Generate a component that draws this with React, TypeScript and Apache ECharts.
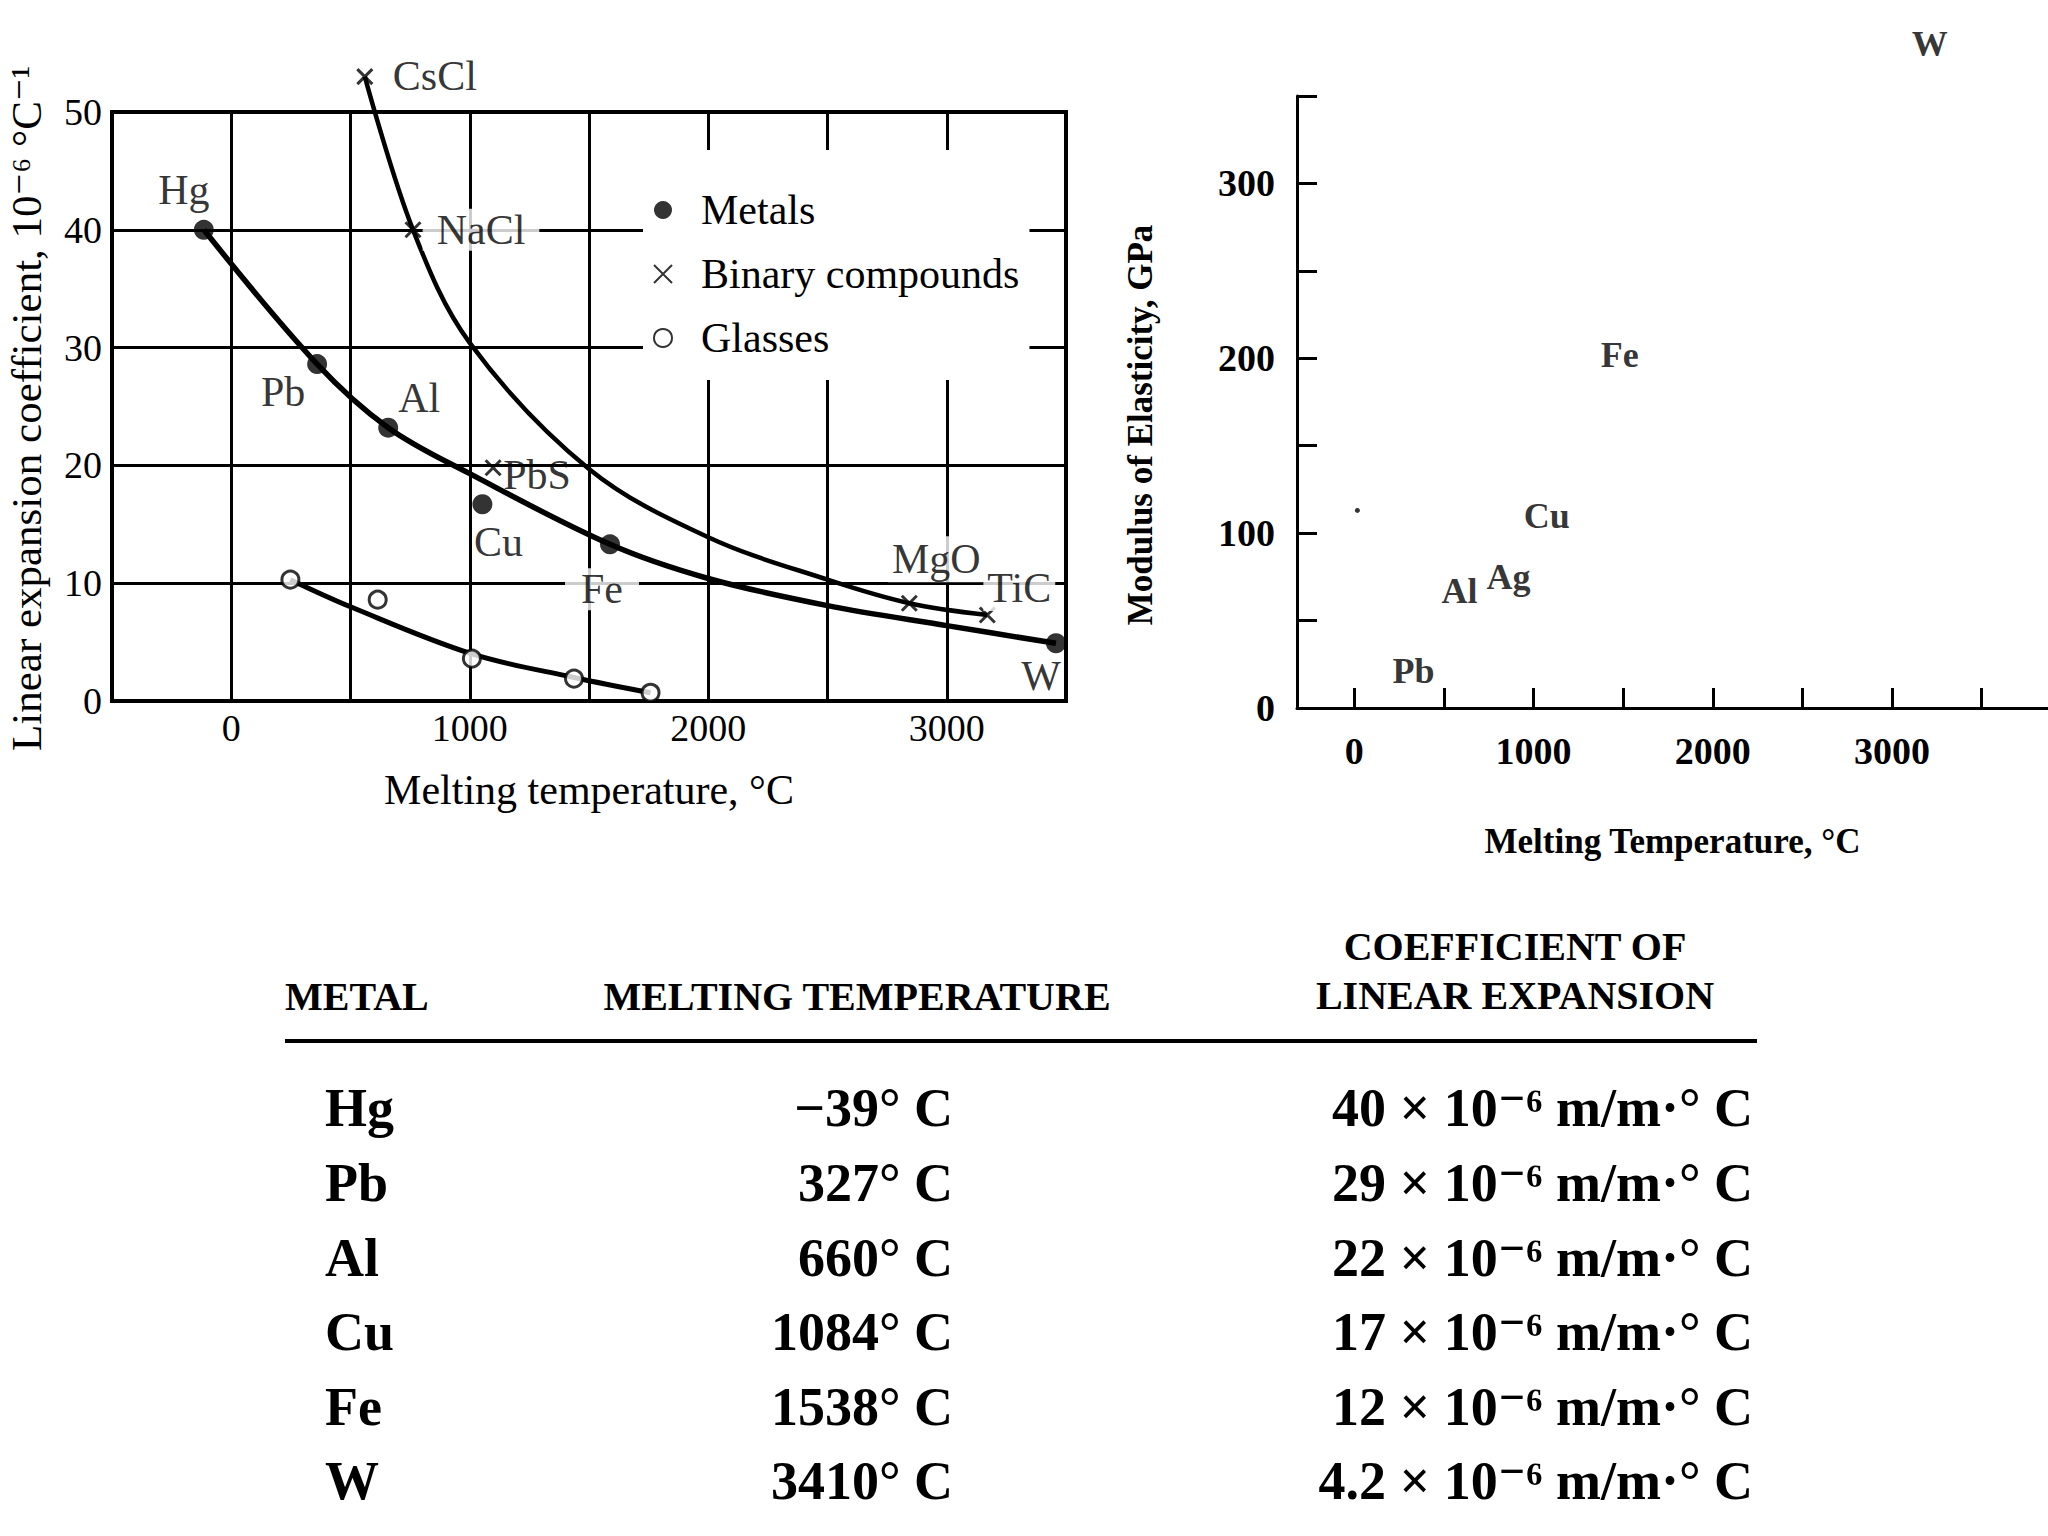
import React, { useEffect, useRef } from 'react';
import * as echarts from 'echarts';

// ---------- Left chart: linear expansion coefficient vs melting temperature ----------
const metalNames = ['Hg', 'Pb', 'Al', 'Cu', 'Fe', 'W'];
const metalTemps = [-115, 360, 658, 1053, 1588, 3458];
const metalCoefs = [40, 28.6, 23.2, 16.7, 13.3, 4.9];

const compoundNames = ['CsCl', 'NaCl', 'PbS', 'MgO', 'TiC'];
const compoundTemps = [560, 762, 1098, 2843, 3170];
const compoundCoefs = [53, 40, 19.8, 8.3, 7.3];

const glassTemps = [248, 614, 1009, 1437, 1758];
const glassCoefs = [10.3, 8.6, 3.6, 1.9, 0.7];

// hand-drawn trend curves
const metalCurveTemps = [-115, 360, 658, 1000, 1588, 2000, 2500, 3000, 3458];
const metalCurveCoefs = [40, 28.6, 23.2, 19.3, 13.3, 10.4, 8.1, 6.4, 4.9];
const compoundCurveTemps = [560, 762, 1000, 1500, 2000, 2500, 2843, 3170];
const compoundCurveCoefs = [53, 40, 30.4, 19.7, 13.9, 10.3, 8.3, 7.3];
const glassCurveTemps = [248, 500, 1009, 1437, 1758];
const glassCurveCoefs = [10.3, 8.0, 4.0, 2.0, 0.7];

const leftXTickLabels = [0, 1000, 2000, 3000];

// ---------- Right chart: modulus of elasticity vs melting temperature ----------
const modulusNames = ['Pb', 'Al', 'Ag', 'Cu', 'Fe', 'W'];
const modulusTemps = [330, 587, 860, 1073, 1480, 3210];
const modulusValues = [21, 67, 75, 110, 202, 380];
const speckTemps = [17];
const speckValues = [113];
const rightXTicks = [0, 500, 1000, 1500, 2000, 2500, 3000, 3500];
const rightXTickLabels = [0, 1000, 2000, 3000];

// ---------- Table ----------
const tableMetals = ['Hg', 'Pb', 'Al', 'Cu', 'Fe', 'W'];
const tableMelting = ['\u221239\u00b0 C', '327\u00b0 C', '660\u00b0 C', '1084\u00b0 C', '1538\u00b0 C', '3410\u00b0 C'];
const tableCoefs = ['40', '29', '22', '17', '12', '4.2'];

const SERIF = '"Liberation Serif", "DejaVu Serif", serif';

// label layout (offsets from the marker centre, px)
const leftLabelOffsets: Record<string, number[]> = {
  Hg: [-20, -40], Pb: [-34, 28], Al: [31, -30], Cu: [16, 38], Fe: [-8, 45], W: [-15, 33],
  CsCl: [70, -1], NaCl: [68, 0], PbS: [44, 7], MgO: [27, -44], TiC: [32, -27],
};
const leftLabelWithBg: Record<string, number[]> = {
  NaCl: [0, 14], Fe: [0, 16], MgO: [2, 4], TiC: [2, 4],
};

function labelFor(name: string) {
  const bg = leftLabelWithBg[name];
  return {
    offset: leftLabelOffsets[name],
    backgroundColor: bg ? '#fff' : 'transparent',
    padding: bg || 0,
  };
}

const leftLabelBase = {
  show: true,
  position: 'inside',
  formatter: '{b}',
  color: '#000',
  fontFamily: SERIF,
  fontSize: 42,
};

const rowYs = [1108, 1183, 1258, 1332, 1407, 1481];

function txt(text: string, x: number, y: number, size: number, align: string, bold = true, rotation = 0) {
  return {
    type: 'text',
    x,
    y,
    rotation,
    silent: true,
    style: {
      text,
      fill: '#000',
      fontSize: size,
      fontFamily: SERIF,
      fontWeight: bold ? 'bold' : 'normal',
      align,
      verticalAlign: 'middle',
      textAlign: align,
      textVerticalAlign: 'middle',
    },
  };
}

const graphicElements: any[] = [
  txt('Linear expansion coefficient, 10\u207b\u2076 \u00b0C\u207b\u00b9', 26, 751, 43, 'left', false, Math.PI / 2),
  txt('Modulus of Elasticity, GPa', 1140, 425, 35, 'center', true, Math.PI / 2),
  txt('METAL', 285, 996, 40, 'left'),
  txt('MELTING TEMPERATURE', 857, 996, 40, 'center'),
  txt('COEFFICIENT OF', 1515, 946, 40, 'center'),
  txt('LINEAR EXPANSION', 1515, 995, 40, 'center'),
  {
    type: 'line',
    silent: true,
    shape: { x1: 285, y1: 1041, x2: 1757, y2: 1041 },
    style: { stroke: '#000', lineWidth: 4 },
  },
];
tableMetals.forEach((m, i) => {
  graphicElements.push(txt(m, 325, rowYs[i], 54, 'left'));
  graphicElements.push(txt(tableMelting[i], 953, rowYs[i], 54, 'right'));
  graphicElements.push(txt(`${tableCoefs[i]} \u00d7 10\u207b\u2076 m/m\u00b7\u00b0 C`, 1753, rowYs[i], 54, 'right'));
});

const crossSymbol = 'path://M0,0L10,10M10,0L0,10';
const plain = (v: number) => String(v);

const curveBase = {
  type: 'line', xAxisIndex: 0, yAxisIndex: 0, silent: true, clip: false,
  smooth: 0.35, showSymbol: false, symbol: 'none', z: 3,
};

const option: any = {
  animation: false,
  backgroundColor: '#fff',
  textStyle: { fontFamily: SERIF },
  grid: [
    { left: 112, top: 112, width: 954, height: 589, show: true, borderColor: '#000', borderWidth: 4, backgroundColor: 'transparent' },
    { left: 1297, top: 96, right: 0, height: 612 },
  ],
  legend: {
    orient: 'vertical',
    left: 643,
    top: 150,
    padding: [38, 10, 20, 10],
    backgroundColor: '#fff',
    itemGap: 20,
    itemWidth: 18,
    itemHeight: 18,
    selectedMode: false,
    data: ['Metals', 'Binary compounds', 'Glasses'],
    textStyle: { fontSize: 42, fontFamily: SERIF, color: '#000', lineHeight: 44, padding: [0, 0, 0, 24] },
  },
  xAxis: [
    {
      gridIndex: 0,
      type: 'value',
      min: -500,
      max: 3500,
      interval: 500,
      axisLine: { show: true, onZero: false, lineStyle: { color: '#000', width: 4 } },
      axisTick: { show: false },
      axisLabel: {
        formatter: (v: number) => (leftXTickLabels.indexOf(v) >= 0 ? String(v) : ''),
        color: '#000',
        fontSize: 38,
        fontFamily: SERIF,
        margin: 8,
      },
      splitLine: { show: true, lineStyle: { color: '#000', width: 3 } },
      name: 'Melting temperature, \u00b0C',
      nameLocation: 'middle',
      nameGap: 68,
      nameTextStyle: { fontSize: 42, fontFamily: SERIF, color: '#000' },
    },
    {
      gridIndex: 1,
      type: 'value',
      min: -320,
      max: 3870,
      axisLine: { show: true, onZero: false, lineStyle: { color: '#000', width: 3 } },
      axisTick: { show: true, inside: true, length: 20, lineStyle: { color: '#000', width: 3 }, customValues: rightXTicks },
      axisLabel: { customValues: rightXTickLabels, formatter: plain, color: '#000', fontSize: 38, fontWeight: 'bold', fontFamily: SERIF, margin: 24 },
      splitLine: { show: false },
      name: 'Melting Temperature, \u00b0C',
      nameLocation: 'middle',
      nameGap: 116,
      nameTextStyle: { fontSize: 35, fontWeight: 'bold', fontFamily: SERIF, color: '#000' },
    },
  ],
  yAxis: [
    {
      gridIndex: 0,
      type: 'value',
      min: 0,
      max: 50,
      interval: 10,
      axisLine: { show: true, onZero: false, lineStyle: { color: '#000', width: 4 } },
      axisTick: { show: false },
      axisLabel: { color: '#000', fontSize: 38, fontFamily: SERIF, margin: 10 },
      splitLine: { show: true, lineStyle: { color: '#000', width: 3 } },
    },
    {
      gridIndex: 1,
      type: 'value',
      min: 0,
      max: 350,
      interval: 50,
      axisLine: { show: true, onZero: false, lineStyle: { color: '#000', width: 3 } },
      axisTick: { show: true, inside: true, length: 20, lineStyle: { color: '#000', width: 3 } },
      axisLabel: {
        formatter: (v: number) => (v % 100 === 0 ? String(v) : ''),
        color: '#000',
        fontSize: 38,
        fontWeight: 'bold',
        fontFamily: SERIF,
        margin: 22,
      },
      splitLine: { show: false },
    },
  ],
  series: [
    { ...curveBase, name: 'metalCurve', lineStyle: { color: '#000', width: 5.5 }, data: metalCurveTemps.map((t, i) => [t, metalCurveCoefs[i]]) },
    { ...curveBase, name: 'compoundCurve', lineStyle: { color: '#000', width: 4.5 }, data: compoundCurveTemps.map((t, i) => [t, compoundCurveCoefs[i]]) },
    { ...curveBase, name: 'glassCurve', lineStyle: { color: '#000', width: 5 }, data: glassCurveTemps.map((t, i) => [t, glassCurveCoefs[i]]) },
    {
      name: 'Metals', type: 'scatter', xAxisIndex: 0, yAxisIndex: 0, clip: false,
      symbol: 'circle', symbolSize: 20,
      itemStyle: { color: '#000' },
      label: leftLabelBase,
      data: metalNames.map((n, i) => ({ name: n, value: [metalTemps[i], metalCoefs[i]], label: labelFor(n) })),
      z: 5,
    },
    {
      name: 'Binary compounds', type: 'scatter', xAxisIndex: 0, yAxisIndex: 0, clip: false,
      symbol: crossSymbol, symbolSize: 15,
      itemStyle: { color: 'rgba(0,0,0,0)', borderColor: '#000', borderWidth: 3 },
      label: leftLabelBase,
      data: compoundNames.map((n, i) => ({ name: n, value: [compoundTemps[i], compoundCoefs[i]], label: labelFor(n) })),
      z: 5,
    },
    {
      name: 'Glasses', type: 'scatter', xAxisIndex: 0, yAxisIndex: 0, clip: false,
      symbol: 'circle', symbolSize: 17,
      itemStyle: { color: '#fff', borderColor: '#000', borderWidth: 3 },
      data: glassTemps.map((t, i) => [t, glassCoefs[i]]),
      z: 5,
    },
    {
      name: 'modulus', type: 'scatter', xAxisIndex: 1, yAxisIndex: 1, clip: false,
      symbol: 'circle', symbolSize: 1,
      itemStyle: { color: 'rgba(0,0,0,0)' },
      label: { show: true, position: 'inside', formatter: '{b}', color: '#000', fontSize: 36, fontWeight: 'bold', fontFamily: SERIF },
      data: modulusNames.map((n, i) => ({ name: n, value: [modulusTemps[i], modulusValues[i]] })),
    },
    {
      name: 'speck', type: 'scatter', xAxisIndex: 1, yAxisIndex: 1, clip: false,
      symbol: 'circle', symbolSize: 5,
      itemStyle: { color: '#000' },
      data: speckTemps.map((t, i) => [t, speckValues[i]]),
    },
  ],
  graphic: { elements: graphicElements },
};

export default function App() {
  const ref = useRef<HTMLDivElement>(null);
  useEffect(() => {
    if (!ref.current) return;
    const chart = echarts.init(ref.current, null, { renderer: 'svg' });
    chart.setOption(option);
    return () => chart.dispose();
  }, []);
  return (
    <div
      ref={ref}
      style={{ position: 'absolute', left: 0, top: 0, width: 2048, height: 1536, background: '#fff' }}
    />
  );
}
